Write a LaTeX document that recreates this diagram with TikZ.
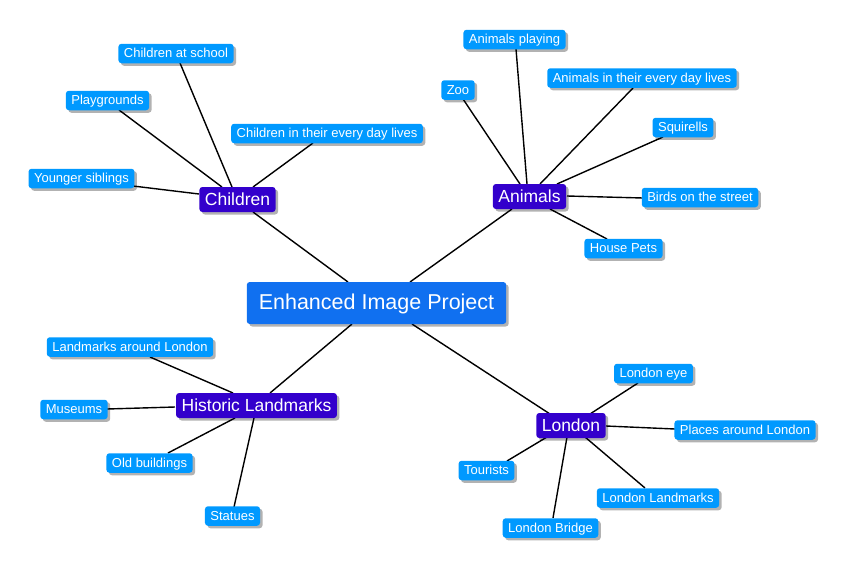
\documentclass[tikz,border=0pt]{standalone}
\usepackage{fontspec}
\setmainfont{Liberation Sans}
\usetikzlibrary{shadows,backgrounds}
\definecolor{leafblue}{RGB}{0,153,255}
\definecolor{mainblue}{RGB}{16,112,240}
\definecolor{catpurple}{RGB}{51,0,204}
\tikzset{
  box/.style={rounded corners=3pt, text=white, inner ysep=0pt, anchor=center,
    drop shadow={shadow xshift=2.5pt, shadow yshift=-2.5pt, fill=black, opacity=0.3}},
  leaf/.style={box, fill=leafblue, inner xsep=5.5pt, minimum height=19.5pt,
    font=\fontsize{13}{15}\selectfont, text height=10.5pt, text depth=1.7pt},
  cat/.style={box, fill=catpurple, inner xsep=5.5pt, minimum height=25pt,
    font=\fontsize{17.5}{20}\selectfont, text height=13.6pt, text depth=2.6pt},
  mainbox/.style={box, fill=mainblue, inner xsep=12pt, minimum height=42pt,
    font=\fontsize{21.5}{25}\selectfont, text height=16.3pt, text depth=3.6pt},
  conn/.style={draw=black, line width=1.4pt},
}
\begin{document}
\begin{tikzpicture}[x=1pt,y=-1pt]
\useasboundingbox (0,0) rectangle (844,568);
% main and categories
\node[mainbox] (m) at (376.5,303) {Enhanced Image Project};
\node[cat] (ch) at (237.5,199.5) {Children};
\node[cat] (an) at (529.5,196.5) {Animals};
\node[cat] (hl) at (256.5,405.5) {Historic Landmarks};
\node[cat] (lo) at (571,425.5) {London};
% children leaves
\node[leaf] (cs) at (176,53.5) {Children at school};
\node[leaf] (pg) at (107.5,100.5) {Playgrounds};
\node[leaf] (ce) at (327,133.5) {Children in their every day lives};
\node[leaf] (ys) at (81.5,178.5) {Younger siblings};
% animals leaves
\node[leaf] (ap) at (514.5,39.5) {Animals playing};
\node[leaf] (zo) at (458,90) {Zoo};
\node[leaf] (ae) at (642,78) {Animals in their every day lives};
\node[leaf] (sq) at (683,127.5) {Squirells};
\node[leaf] (bs) at (700,197.5) {Birds on the street};
\node[leaf] (hp) at (623.5,248.5) {House Pets};
% historic leaves
\node[leaf] (la) at (130,347) {Landmarks around London};
\node[leaf] (mu) at (74,409.5) {Museums};
\node[leaf] (ob) at (149.5,463) {Old buildings};
\node[leaf] (st) at (232.5,516) {Statues};
% london leaves
\node[leaf] (le) at (653.5,373.5) {London eye};
\node[leaf] (pl) at (745,430) {Places around London};
\node[leaf] (to) at (486.5,470.5) {Tourists};
\node[leaf] (lb) at (550.5,528) {London Bridge};
\node[leaf] (ll) at (658,498) {London Landmarks};
\begin{scope}[on background layer]
% main to categories
\draw[conn] ([shift={(15.5,12.5)}]ch.center) -- ([shift={(-28.5,-21)}]m.center);
\draw[conn] ([shift={(-17.5,12.5)}]an.center) -- ([shift={(33.5,-21)}]m.center);
\draw[conn] ([shift={(13.5,-12.5)}]hl.center) -- ([shift={(-24.5,21)}]m.center);
\draw[conn] ([shift={(-21,-11.5)}]lo.center) -- ([shift={(35.5,21)}]m.center);
% children
\draw[conn] ([shift={(4,9.5)}]cs.center) -- ([shift={(-5.5,-12.5)}]ch.center);
\draw[conn] ([shift={(11.5,9.5)}]pg.center) -- ([shift={(-15.5,-12.5)}]ch.center);
\draw[conn] ([shift={(-14,9.5)}]ce.center) -- ([shift={(15.5,-12.5)}]ch.center);
\draw[conn] ([shift={(51.5,7.5)}]ys.center) -- ([shift={(-38.5,-5.5)}]ch.center);
% animals
\draw[conn] ([shift={(1.5,9.5)}]ap.center) -- ([shift={(-2.5,-12.5)}]an.center);
\draw[conn] ([shift={(5,9)}]zo.center) -- ([shift={(-9.5,-12.5)}]an.center);
\draw[conn] ([shift={(-9,10)}]ae.center) -- ([shift={(10.5,-12.5)}]an.center);
\draw[conn] ([shift={(-20,9.5)}]sq.center) -- ([shift={(27.5,-12.5)}]an.center);
\draw[conn] ([shift={(-57,0.5)}]bs.center) -- ([shift={(37.5,-0.5)}]an.center);
\draw[conn] ([shift={(-16.5,-9.5)}]hp.center) -- ([shift={(20.5,12.5)}]an.center);
% historic
\draw[conn] ([shift={(20,10)}]la.center) -- ([shift={(-23.5,-12.5)}]hl.center);
\draw[conn] ([shift={(33,-0.5)}]mu.center) -- ([shift={(-81.5,1.5)}]hl.center);
\draw[conn] ([shift={(18.5,-10)}]ob.center) -- ([shift={(-21.5,12.5)}]hl.center);
\draw[conn] ([shift={(1.5,-9)}]st.center) -- ([shift={(-2.5,12.5)}]hl.center);
% london
\draw[conn] ([shift={(-15.5,9.5)}]le.center) -- ([shift={(19,-11.5)}]lo.center);
\draw[conn] ([shift={(-70,-1)}]pl.center) -- ([shift={(35,0.5)}]lo.center);
\draw[conn] ([shift={(20.5,-9.5)}]to.center) -- ([shift={(-24,11.5)}]lo.center);
\draw[conn] ([shift={(2.5,-10)}]lb.center) -- ([shift={(-4,11.5)}]lo.center);
\draw[conn] ([shift={(-13,-10)}]ll.center) -- ([shift={(14,11.5)}]lo.center);
\end{scope}
\end{tikzpicture}
\end{document}
